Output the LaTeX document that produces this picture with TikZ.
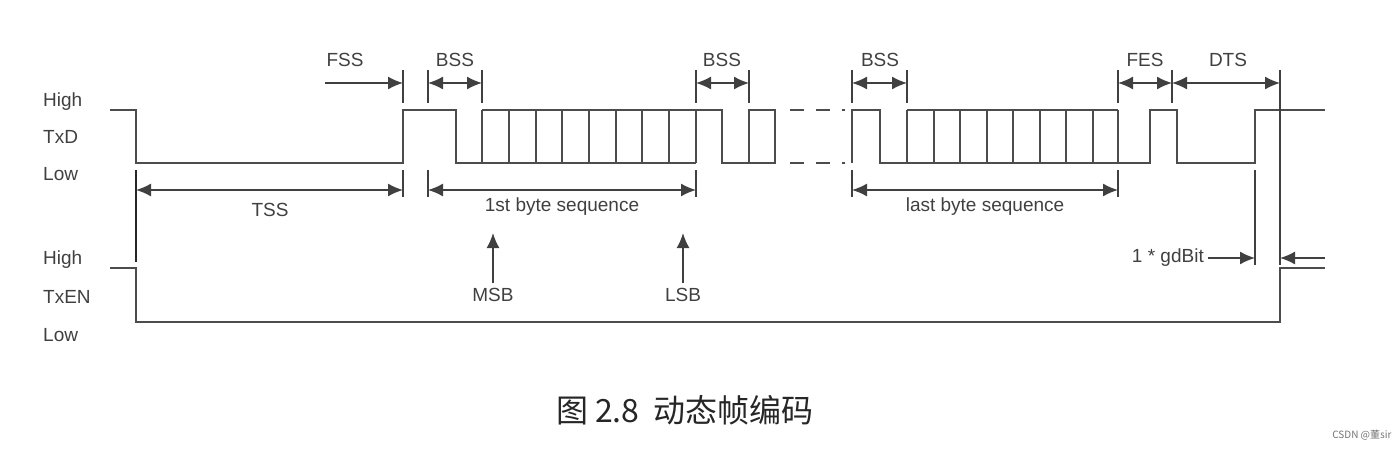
\documentclass[tikz,border=0pt]{standalone}
\usepackage{fontspec}
\setmainfont{Liberation Sans}
\newfontfamily\cjk{Noto Sans CJK SC}
\usetikzlibrary{arrows.meta}
\begin{document}
\begin{tikzpicture}[x=1pt,y=-1pt,
  sig/.style={draw=black!70,line width=1.6pt},
  mk/.style={draw=black!75,line width=1.4pt},
  dim/.style={draw=black!75,line width=1.4pt,{Latex[length=15pt,width=13pt]}-{Latex[length=15pt,width=13pt]}},
  one/.style={draw=black!75,line width=1.4pt,-{Latex[length=15pt,width=13pt]}},
  lab/.style={font=\rmfamily\fontsize{19}{19}\selectfont,text=black!75,inner sep=1pt}]
\useasboundingbox (0,0) rectangle (1397,448);
% side labels
\foreach \t/\y in {High/102,TxD/137,Low/174,High/260,TxEN/297,Low/335}
  \node[lab,anchor=west] at (42,\y) {\t};
% TxD signal
\draw[sig] (110,110) -- (136,110) -- (136,163) -- (403,163) -- (403,110) -- (456,110) -- (456,163) -- (696,163);
\draw[sig] (482,110) -- (722,110) -- (722,163) -- (775,163) -- (775,110) -- (749,110) -- (749,163);
\foreach \x in {482,509,536,562,589,616,642,669,696} \draw[sig] (\x,110) -- (\x,163);
\draw[sig,dash pattern=on 14pt off 12pt] (790,110) -- (845,110) (790,163) -- (845,163);
\draw[sig] (852,163) -- (852,110) -- (880,110) -- (880,163) -- (1150,163) -- (1150,110) -- (1177,110) -- (1177,163) -- (1255,163) -- (1255,110) -- (1325,110);
\draw[sig] (907,110) -- (1118,110);
\foreach \x in {907,934,960,987,1013,1040,1066,1093,1118} \draw[sig] (\x,110) -- (\x,163);
% TxEN
\draw[sig] (110,268) -- (136,268) -- (136,322) -- (1280,322) -- (1280,268) -- (1325,268);
% top markers
\foreach \x in {403,428,482,696,749,852,907,1118,1172} \draw[mk] (\x,70) -- (\x,103);
\draw[mk] (1280,70) -- (1280,265);
\coordinate (f0) at (325,83); \coordinate (f1) at (403,83);
\draw[one] (f0) -- (f1);
\node[lab] at (345,60) {FSS};
\draw[dim] (428,83) -- (482,83); \node[lab] at (455,60) {BSS};
\draw[dim] (696,83) -- (749,83); \node[lab] at (722,60) {BSS};
\draw[dim] (852,83) -- (907,83); \node[lab] at (880,60) {BSS};
\draw[dim] (1118,83) -- (1172,83); \node[lab] at (1145,60) {FES};
\draw[dim] (1172,83) -- (1280,83); \node[lab] at (1228,60) {DTS};
% bottom markers
\draw[draw=black!85,line width=2.2pt] (136,170) -- (136,262);
\foreach \x in {403,428,696,852,1118} \draw[mk] (\x,170) -- (\x,197);
\draw[mk] (1255,170) -- (1255,265);
\draw[dim] (136,190) -- (403,190); \node[lab] at (270,210) {TSS};
\draw[dim] (428,190) -- (696,190); \node[lab] at (562,207) {1st byte sequence};
\draw[dim] (852,190) -- (1118,190); \node[lab] at (985,207) {last byte sequence};
% MSB/LSB
\node[lab] (msb) at (493,295) {MSB};
\node[lab] (lsb) at (683,295) {LSB};
\draw[one] (msb.north) ++(0,-4) -- ++(0,-50);
\draw[one] (lsb.north) ++(0,-4) -- ++(0,-50);
% gdBit
\node[lab,anchor=east] (gd) at (1205,258) {1 * gdBit};
\draw[one] ([xshift=3pt]gd.east) -- (1255,258);
\coordinate (r0) at (1325,258);
\draw[one] (r0) -- (1280,258);
% caption
\node[font=\cjk\fontsize{32}{32}\selectfont,text=black!85] at (685,410) {图 2.8\ \ 动态帧编码};
\node[font=\cjk\fontsize{10}{10}\selectfont,text=black!55,anchor=east] at (1395,435) {CSDN @董sir};
\end{tikzpicture}
\end{document}
